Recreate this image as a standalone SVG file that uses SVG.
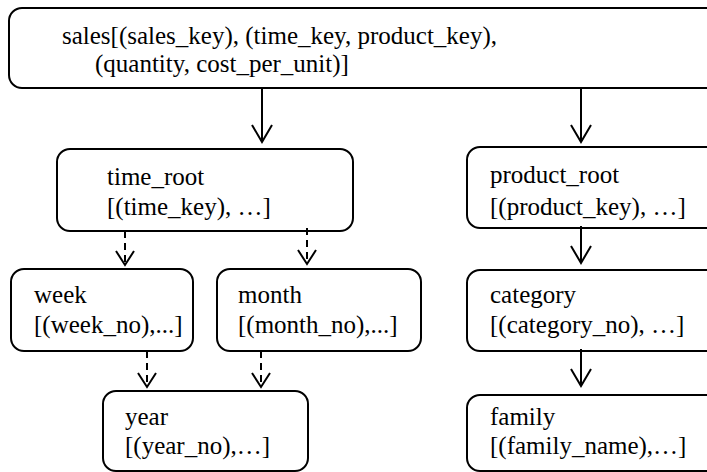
<svg xmlns="http://www.w3.org/2000/svg" width="707" height="472" viewBox="0 0 707 472">
  <defs>
    <style>
      .box { fill: #ffffff; stroke: #000000; stroke-width: 2; }
      .lbl { font-size: 25px; fill: #000000; }
      .edge { stroke: #000000; stroke-width: 2; fill: none; }
      .dash { stroke-dasharray: 7 5; }
      .head { stroke: #000000; stroke-width: 2; fill: none; }
    </style>
  </defs>
  <rect width="707" height="472" fill="#ffffff"/>

  <g font-family="'Liberation Serif', 'Times New Roman', Times, 'DejaVu Serif', serif">
  <!-- fact table -->
  <g id="sales">
    <rect class="box" x="9" y="8" width="720" height="80" rx="13"/>
    <text class="lbl" x="62" y="44">sales[(sales_key), (time_key, product_key),</text>
    <text class="lbl" x="95" y="72">(quantity, cost_per_unit)]</text>
  </g>

  <!-- time dimension -->
  <g id="time_root">
    <rect class="box" x="57" y="149" width="296" height="82" rx="13"/>
    <text class="lbl" x="107" y="185">time_root</text>
    <text class="lbl" x="107" y="215">[(time_key), …]</text>
  </g>
  <g id="week">
    <rect class="box" x="11" y="269" width="182" height="82" rx="13"/>
    <text class="lbl" x="34" y="303">week</text>
    <text class="lbl" x="34" y="333">[(week_no),...]</text>
  </g>
  <g id="month">
    <rect class="box" x="217" y="269" width="204" height="82" rx="13"/>
    <text class="lbl" x="238" y="303">month</text>
    <text class="lbl" x="238" y="333">[(month_no),...]</text>
  </g>
  <g id="year">
    <rect class="box" x="103" y="391" width="205" height="80" rx="13"/>
    <text class="lbl" x="125" y="425">year</text>
    <text class="lbl" x="125" y="454">[(year_no),…]</text>
  </g>

  <!-- product dimension -->
  <g id="product_root">
    <rect class="box" x="467" y="147" width="260" height="81" rx="13"/>
    <text class="lbl" x="490" y="183">product_root</text>
    <text class="lbl" x="490" y="215">[(product_key), …]</text>
  </g>
  <g id="category">
    <rect class="box" x="467" y="270" width="260" height="81" rx="13"/>
    <text class="lbl" x="490" y="303">category</text>
    <text class="lbl" x="490" y="333">[(category_no), …]</text>
  </g>
  <g id="family">
    <rect class="box" x="467" y="395" width="260" height="76" rx="13"/>
    <text class="lbl" x="490" y="425">family</text>
    <text class="lbl" x="490" y="454">[(family_name),…]</text>
  </g>
  </g>

  <!-- connectors: solid = fact-to-root and product chain, dashed = time hierarchy -->
  <g id="connectors">
    <line class="edge" x1="262" y1="88" x2="262" y2="142"/>
    <polyline class="head" points="252,125 262,142 272,125"/>

    <line class="edge" x1="581" y1="88" x2="581" y2="142"/>
    <polyline class="head" points="571,125 581,142 591,125"/>

    <line class="edge" x1="581" y1="226" x2="581" y2="263"/>
    <polyline class="head" points="571,246 581,263 591,246"/>

    <line class="edge" x1="581" y1="349" x2="581" y2="386"/>
    <polyline class="head" points="571,369 581,386 591,369"/>

    <line class="edge dash" x1="125" y1="231" x2="125" y2="265"/>
    <polyline class="head" points="116,251 125,265 134,251"/>

    <line class="edge dash" x1="307" y1="228" x2="307" y2="264"/>
    <polyline class="head" points="298,250 307,264 316,250"/>

    <line class="edge dash" x1="147" y1="351" x2="147" y2="387"/>
    <polyline class="head" points="138,373 147,387 156,373"/>

    <line class="edge dash" x1="261" y1="351" x2="261" y2="387"/>
    <polyline class="head" points="252,373 261,387 270,373"/>
  </g>
</svg>
